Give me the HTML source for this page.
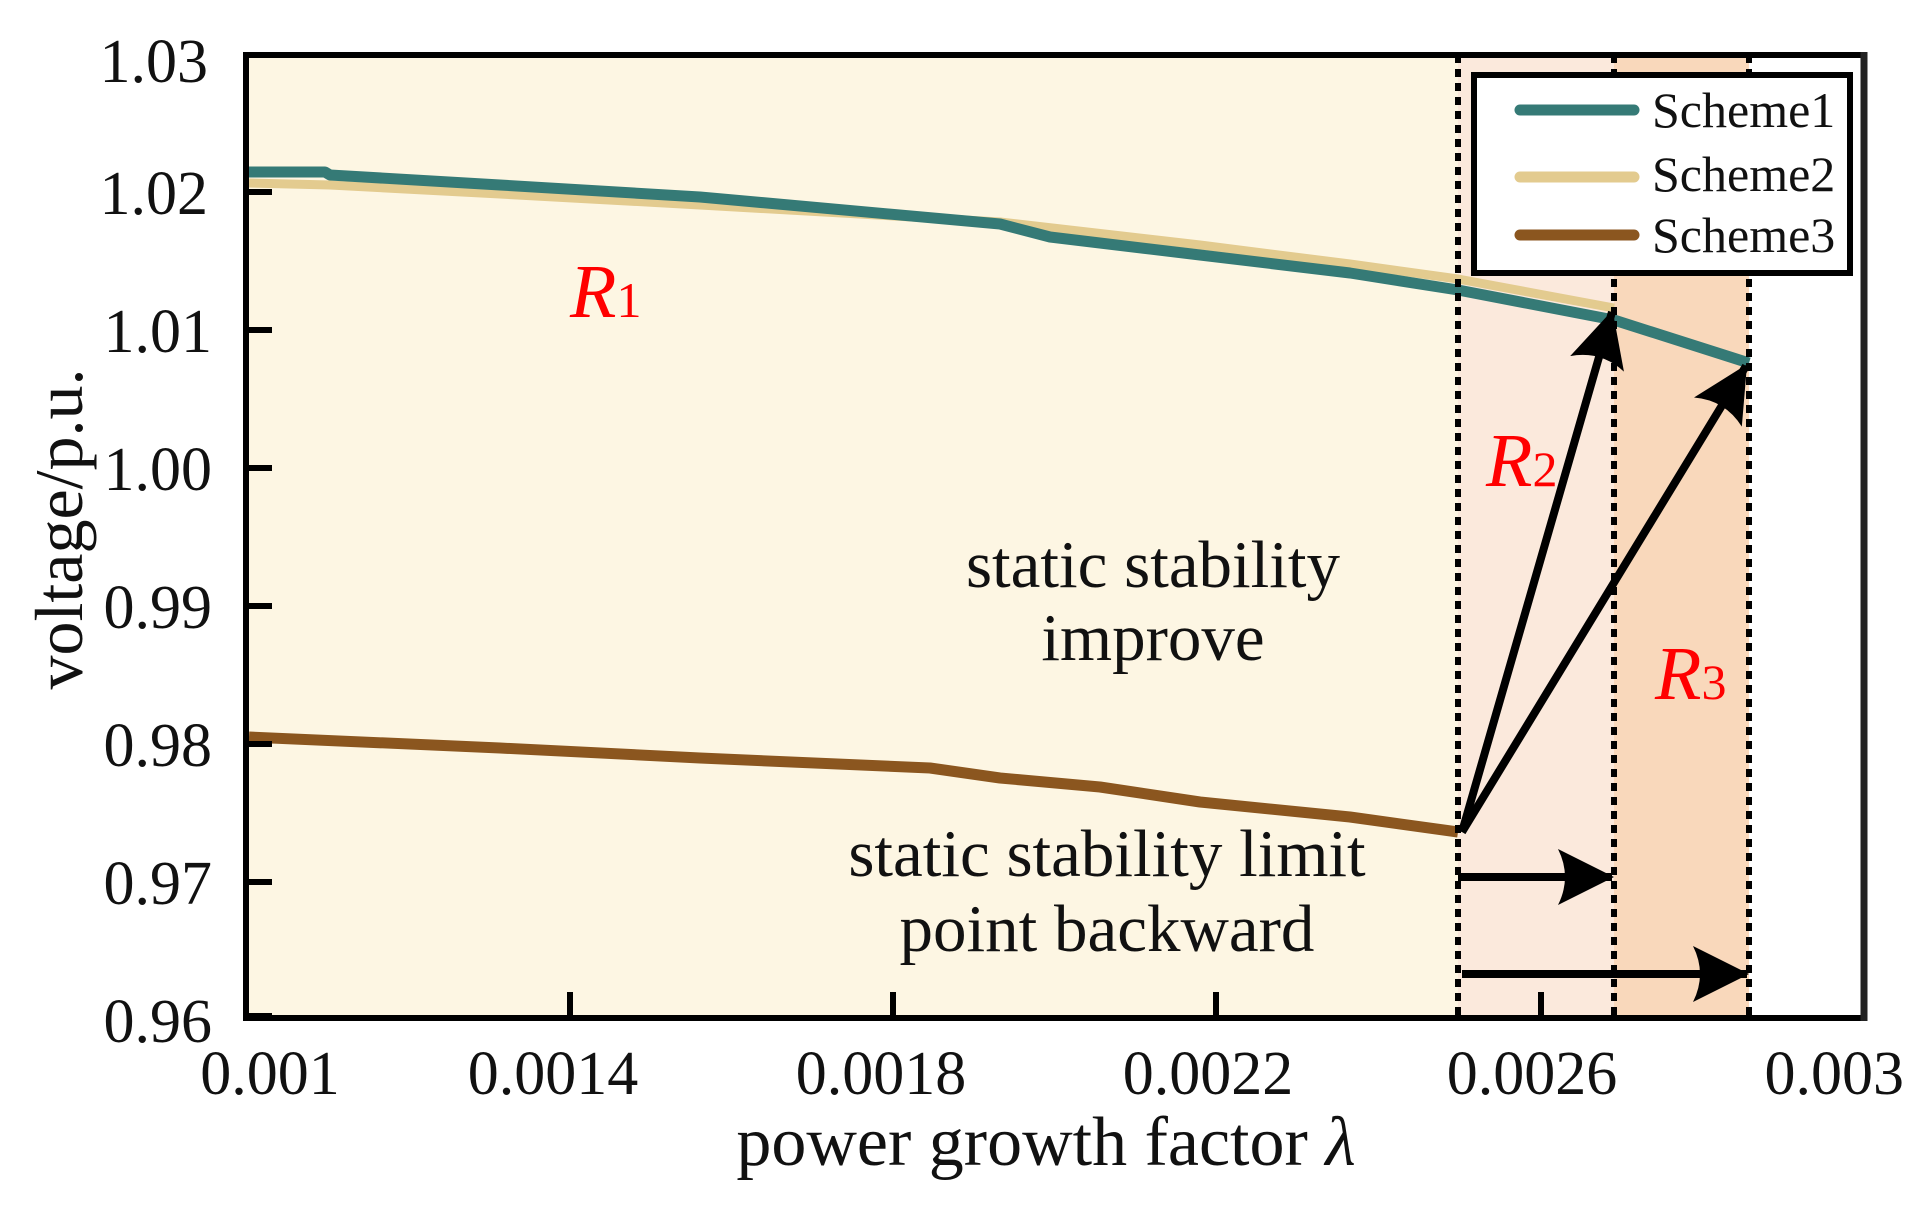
<!DOCTYPE html>
<html><head><meta charset="utf-8"><style>
html,body{margin:0;padding:0;background:#fff;}
svg{display:block;}
text{font-family:"Liberation Serif",serif;fill:#111;}
</style></head><body>
<svg width="1919" height="1210" viewBox="0 0 1919 1210" xmlns="http://www.w3.org/2000/svg">
<defs>
<marker id="ah" markerWidth="60" markerHeight="60" refX="54" refY="28" orient="auto" markerUnits="userSpaceOnUse">
<path d="M0,0 L56,28 L0,56 Q14,28 0,0 Z" fill="#000"/>
</marker>
</defs>
<rect x="246" y="55" width="1212" height="963" fill="#fdf6e3"/>
<rect x="1458" y="55" width="156" height="963" fill="#fbe9dc"/>
<rect x="1614" y="55" width="135" height="963" fill="#f9d8bb"/>
<polyline fill="none" stroke="#e3cb8f" stroke-width="9" stroke-linejoin="round" points="249,183 330,185 500,194 700,205 1000,222 1200,245 1350,264 1458,279 1614,308"/>
<polyline fill="none" stroke="#357a76" stroke-width="11" stroke-linejoin="round" points="249,172 325,172 330,175 500,185 700,197 1000,224 1050,237 1200,255 1350,273 1458,290 1614,320 1749,363"/>
<polyline fill="none" stroke="#8b561f" stroke-width="11" stroke-linejoin="round" points="249,737 500,748 700,758 930,768 1000,778 1100,787 1200,802 1350,817 1458,832"/>
<g stroke="#000" stroke-width="6" stroke-dasharray="8,6">
<line x1="1458" y1="55" x2="1458" y2="1018"/>
<line x1="1614" y1="55" x2="1614" y2="1018"/>
<line x1="1749" y1="55" x2="1749" y2="1018"/>
</g>
<g stroke="#000" stroke-width="8" fill="none">
<line x1="1462" y1="832" x2="1612" y2="312" marker-end="url(#ah)"/>
<line x1="1462" y1="832" x2="1746" y2="366" marker-end="url(#ah)"/>
<line x1="1458" y1="877" x2="1612" y2="877" marker-end="url(#ah)"/>
<line x1="1462" y1="974" x2="1747" y2="974" marker-end="url(#ah)"/>
</g>
<line x1="246" y1="55" x2="1866" y2="55" stroke="#000" stroke-width="6"/>
<line x1="246" y1="52" x2="246" y2="1021" stroke="#000" stroke-width="6"/>
<line x1="243" y1="1018" x2="1867" y2="1018" stroke="#000" stroke-width="6"/>
<line x1="1864" y1="52" x2="1864" y2="1021" stroke="#222" stroke-width="7"/>
<g stroke="#000" stroke-width="6">
<line x1="246" y1="192" x2="272" y2="192"/>
<line x1="246" y1="330" x2="272" y2="330"/>
<line x1="246" y1="468" x2="272" y2="468"/>
<line x1="246" y1="606" x2="272" y2="606"/>
<line x1="246" y1="744" x2="272" y2="744"/>
<line x1="246" y1="882" x2="272" y2="882"/>
<line x1="246" y1="1016" x2="272" y2="1016"/>
<line x1="570" y1="1018" x2="570" y2="992"/>
<line x1="893" y1="1018" x2="893" y2="992"/>
<line x1="1216" y1="1018" x2="1216" y2="992"/>
<line x1="1541" y1="1018" x2="1541" y2="992"/>
</g>
<g font-size="62" text-anchor="end">
<text x="208" y="82">1.03</text>
<text x="208" y="214">1.02</text>
<text x="212" y="352">1.01</text>
<text x="212" y="490">1.00</text>
<text x="212" y="628">0.99</text>
<text x="212" y="766">0.98</text>
<text x="212" y="904">0.97</text>
<text x="212" y="1042">0.96</text>
</g>
<g font-size="62" text-anchor="middle">
<text x="270" y="1094">0.001</text>
<text x="553" y="1094">0.0014</text>
<text x="881" y="1094">0.0018</text>
<text x="1208" y="1094">0.0022</text>
<text x="1532" y="1094">0.0026</text>
<text x="1904" y="1094" text-anchor="end">0.003</text>
</g>
<text x="1046" y="1165" font-size="70" text-anchor="middle">power growth factor <tspan font-style="italic">λ</tspan></text>
<text transform="translate(82,529) rotate(-90)" font-size="68" text-anchor="middle">voltage/p.u.</text>
<g font-size="67" text-anchor="middle">
<text x="1153" y="587">static stability</text>
<text x="1153" y="660">improve</text>
<text x="1107" y="876">static stability limit</text>
<text x="1107" y="951">point backward</text>
</g>
<text x="570" y="317" font-size="76" font-style="italic" style="fill:#f00">R<tspan font-size="50" font-style="normal" style="fill:#f00">1</tspan></text>
<text x="1486" y="486" font-size="76" font-style="italic" style="fill:#f00">R<tspan font-size="50" font-style="normal" style="fill:#f00">2</tspan></text>
<text x="1655" y="699" font-size="76" font-style="italic" style="fill:#f00">R<tspan font-size="50" font-style="normal" style="fill:#f00">3</tspan></text>
<rect x="1474" y="75" width="376" height="198" fill="#fff" stroke="#000" stroke-width="6"/>
<g stroke-width="11" stroke-linecap="round">
<line x1="1520" y1="110" x2="1634" y2="110" stroke="#357a76"/>
<line x1="1520" y1="177" x2="1634" y2="177" stroke="#e3cb8f"/>
<line x1="1520" y1="235" x2="1634" y2="235" stroke="#8b561f"/>
</g>
<g font-size="50">
<text x="1652" y="127">Scheme1</text>
<text x="1652" y="191">Scheme2</text>
<text x="1652" y="252">Scheme3</text>
</g>
</svg>
</body></html>
